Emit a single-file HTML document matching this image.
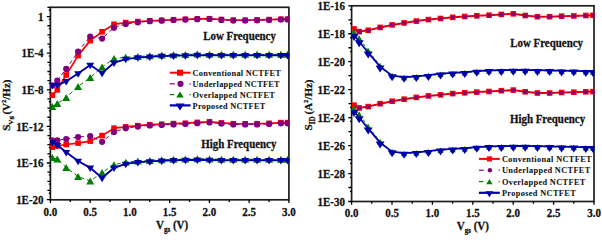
<!DOCTYPE html><html><head><meta charset="utf-8"><style>html,body{margin:0;padding:0;background:#fff;width:602px;height:235px;overflow:hidden}svg{display:block}text{font-family:"Liberation Serif",serif;font-weight:bold;fill:#111;stroke:#111;stroke-width:0.25px}</style></head><body>
<svg width="602" height="235" viewBox="0 0 602 235">
<rect x="50.4" y="7.3" width="238.50" height="192.50" fill="none" stroke="#1e1e1e" stroke-width="1.7"/>
<path d="M50.40,199.80 v3.2 M70.28,199.80 v2.2 M90.15,199.80 v3.2 M110.03,199.80 v2.2 M129.90,199.80 v3.2 M149.78,199.80 v2.2 M169.65,199.80 v3.2 M189.53,199.80 v2.2 M209.40,199.80 v3.2 M229.28,199.80 v2.2 M249.15,199.80 v3.2 M269.02,199.80 v2.2 M288.90,199.80 v3.2 M50.40,199.60 h-3.6 M50.40,190.45 h-3.0 M50.40,193.25 h-1.6 M50.40,181.30 h-3.0 M50.40,184.10 h-1.6 M50.40,172.15 h-3.0 M50.40,174.95 h-1.6 M50.40,163.00 h-3.6 M50.40,165.80 h-1.6 M50.40,153.85 h-3.0 M50.40,156.65 h-1.6 M50.40,144.70 h-3.0 M50.40,147.50 h-1.6 M50.40,135.55 h-3.0 M50.40,138.35 h-1.6 M50.40,126.40 h-3.6 M50.40,129.20 h-1.6 M50.40,117.25 h-3.0 M50.40,120.05 h-1.6 M50.40,108.10 h-3.0 M50.40,110.90 h-1.6 M50.40,98.95 h-3.0 M50.40,101.75 h-1.6 M50.40,89.80 h-3.6 M50.40,92.60 h-1.6 M50.40,80.65 h-3.0 M50.40,83.45 h-1.6 M50.40,71.50 h-3.0 M50.40,74.30 h-1.6 M50.40,62.35 h-3.0 M50.40,65.15 h-1.6 M50.40,53.20 h-3.6 M50.40,56.00 h-1.6 M50.40,44.05 h-3.0 M50.40,46.85 h-1.6 M50.40,34.90 h-3.0 M50.40,37.70 h-1.6 M50.40,25.75 h-3.0 M50.40,28.55 h-1.6 M50.40,16.60 h-3.6 M50.40,19.40 h-1.6 M50.40,7.45 h-3.0 M50.40,10.25 h-1.6" stroke="#000" stroke-width="1.3" fill="none"/>
<text transform="translate(50.4,215.8) scale(1,1.08)" font-size="11" text-anchor="middle" >0.0</text>
<text transform="translate(90.2,215.8) scale(1,1.08)" font-size="11" text-anchor="middle" >0.5</text>
<text transform="translate(129.9,215.8) scale(1,1.08)" font-size="11" text-anchor="middle" >1.0</text>
<text transform="translate(169.7,215.8) scale(1,1.08)" font-size="11" text-anchor="middle" >1.5</text>
<text transform="translate(209.4,215.8) scale(1,1.08)" font-size="11" text-anchor="middle" >2.0</text>
<text transform="translate(249.2,215.8) scale(1,1.08)" font-size="11" text-anchor="middle" >2.5</text>
<text transform="translate(288.9,215.8) scale(1,1.08)" font-size="11" text-anchor="middle" >3.0</text>
<text transform="translate(43.6,20.7) scale(1,1.08)" font-size="11" text-anchor="end" >1</text>
<text transform="translate(43.6,57.3) scale(1,1.08)" font-size="11" text-anchor="end" >1E-4</text>
<text transform="translate(43.6,93.9) scale(1,1.08)" font-size="11" text-anchor="end" >1E-8</text>
<text transform="translate(43.6,130.5) scale(1,1.08)" font-size="11" text-anchor="end" >1E-12</text>
<text transform="translate(43.6,167.1) scale(1,1.08)" font-size="11" text-anchor="end" >1E-16</text>
<text transform="translate(43.6,203.7) scale(1,1.08)" font-size="11" text-anchor="end" >1E-20</text>
<rect x="351.6" y="5.8" width="242.40" height="195.70" fill="none" stroke="#1e1e1e" stroke-width="1.7"/>
<path d="M351.60,201.50 v3.2 M371.80,201.50 v2.2 M392.00,201.50 v3.2 M412.20,201.50 v2.2 M432.40,201.50 v3.2 M452.60,201.50 v2.2 M472.80,201.50 v3.2 M493.00,201.50 v2.2 M513.20,201.50 v3.2 M533.40,201.50 v2.2 M553.60,201.50 v3.2 M573.80,201.50 v2.2 M594.00,201.50 v3.2 M351.60,201.50 h-3.4 M351.60,187.52 h-3.2 M351.60,191.32 h-1.6 M351.60,173.54 h-3.4 M351.60,177.34 h-1.6 M351.60,159.56 h-3.2 M351.60,163.36 h-1.6 M351.60,145.59 h-3.4 M351.60,149.39 h-1.6 M351.60,131.61 h-3.2 M351.60,135.41 h-1.6 M351.60,117.63 h-3.4 M351.60,121.43 h-1.6 M351.60,103.65 h-3.2 M351.60,107.45 h-1.6 M351.60,89.67 h-3.4 M351.60,93.47 h-1.6 M351.60,75.69 h-3.2 M351.60,79.49 h-1.6 M351.60,61.71 h-3.4 M351.60,65.51 h-1.6 M351.60,47.74 h-3.2 M351.60,51.54 h-1.6 M351.60,33.76 h-3.4 M351.60,37.56 h-1.6 M351.60,19.78 h-3.2 M351.60,23.58 h-1.6 M351.60,5.80 h-3.4 M351.60,9.60 h-1.6" stroke="#000" stroke-width="1.3" fill="none"/>
<text transform="translate(351.6,216.8) scale(1,1.08)" font-size="11" text-anchor="middle" >0.0</text>
<text transform="translate(392.0,216.8) scale(1,1.08)" font-size="11" text-anchor="middle" >0.5</text>
<text transform="translate(432.4,216.8) scale(1,1.08)" font-size="11" text-anchor="middle" >1.0</text>
<text transform="translate(472.8,216.8) scale(1,1.08)" font-size="11" text-anchor="middle" >1.5</text>
<text transform="translate(513.2,216.8) scale(1,1.08)" font-size="11" text-anchor="middle" >2.0</text>
<text transform="translate(553.6,216.8) scale(1,1.08)" font-size="11" text-anchor="middle" >2.5</text>
<text transform="translate(594.0,216.8) scale(1,1.08)" font-size="11" text-anchor="middle" >3.0</text>
<text transform="translate(344.9,9.9) scale(1,1.08)" font-size="11" text-anchor="end" >1E-16</text>
<text transform="translate(344.9,37.9) scale(1,1.08)" font-size="11" text-anchor="end" >1E-18</text>
<text transform="translate(344.9,65.8) scale(1,1.08)" font-size="11" text-anchor="end" >1E-20</text>
<text transform="translate(344.9,93.8) scale(1,1.08)" font-size="11" text-anchor="end" >1E-22</text>
<text transform="translate(344.9,121.7) scale(1,1.08)" font-size="11" text-anchor="end" >1E-24</text>
<text transform="translate(344.9,149.7) scale(1,1.08)" font-size="11" text-anchor="end" >1E-26</text>
<text transform="translate(344.9,177.6) scale(1,1.08)" font-size="11" text-anchor="end" >1E-28</text>
<text transform="translate(344.9,205.6) scale(1,1.08)" font-size="11" text-anchor="end" >1E-30</text>
<text transform="translate(156,229) scale(1,1.08)" font-size="11">V<tspan font-size="7" dy="3">gs</tspan><tspan dy="-3"> (V)</tspan></text>
<text transform="translate(456.8,229.7) scale(1,1.08)" font-size="11">V<tspan font-size="7" dy="3">gs</tspan><tspan dy="-3"> (V)</tspan></text>
<text transform="translate(10.4,130.8) rotate(-90)" font-size="11">S<tspan font-size="7" dy="2.6">Vg</tspan><tspan dy="-2.6" dx="-1.2"> (V</tspan><tspan font-size="6.5" dy="-4.2">2</tspan><tspan dy="4.2">/Hz)</tspan></text>
<text transform="translate(312.2,130.4) rotate(-90)" font-size="11">S<tspan font-size="7.2" dy="2.6">ID</tspan><tspan dy="-2.6" dx="-1"> (A</tspan><tspan font-size="6.5" dy="-4.2">2</tspan><tspan dy="4.2">/Hz)</tspan></text>
<text transform="translate(203.2,40.2) scale(1,1.08)" font-size="10.9" text-anchor="start" >Low Frequency</text>
<text transform="translate(201.3,148.4) scale(1,1.08)" font-size="10.9" text-anchor="start" >High Frequency</text>
<text transform="translate(510.3,47.2) scale(1,1.08)" font-size="10.9" text-anchor="start" >Low Frequency</text>
<text transform="translate(510.0,123.3) scale(1,1.08)" font-size="10.9" text-anchor="start" >High Frequency</text>
<svg x="50.4" y="7.3" width="239.00" height="192.50" viewBox="50.4 7.3 239.00 192.50" overflow="hidden">
<path d="M52.3,95.2 L57.3,89.9 L66.2,75.0 L78.1,55.6 L90.2,40.6 L102.1,31.8 L114.0,24.3 L125.7,22.6 L137.8,21.6 L149.8,20.8 L161.7,20.3 L173.5,19.7 L185.4,19.3 L197.3,18.9 L209.5,18.7 L221.4,19.5 L233.3,20.1 L245.2,20.2 L257.1,19.9 L269.1,19.6 L280.9,19.2 L287.6,19.1" fill="none" stroke="#ff0000" stroke-width="1.7" stroke-linejoin="round"/>
<rect x="49.50" y="92.40" width="5.6" height="5.6" fill="#ff0000"/><rect x="54.50" y="87.10" width="5.6" height="5.6" fill="#ff0000"/><rect x="63.40" y="72.20" width="5.6" height="5.6" fill="#ff0000"/><rect x="75.30" y="52.80" width="5.6" height="5.6" fill="#ff0000"/><rect x="87.40" y="37.80" width="5.6" height="5.6" fill="#ff0000"/><rect x="99.30" y="29.00" width="5.6" height="5.6" fill="#ff0000"/><rect x="111.20" y="21.50" width="5.6" height="5.6" fill="#ff0000"/><rect x="122.90" y="19.80" width="5.6" height="5.6" fill="#ff0000"/><rect x="135.00" y="18.80" width="5.6" height="5.6" fill="#ff0000"/><rect x="147.00" y="18.00" width="5.6" height="5.6" fill="#ff0000"/><rect x="158.90" y="17.50" width="5.6" height="5.6" fill="#ff0000"/><rect x="170.70" y="16.90" width="5.6" height="5.6" fill="#ff0000"/><rect x="182.60" y="16.50" width="5.6" height="5.6" fill="#ff0000"/><rect x="194.50" y="16.10" width="5.6" height="5.6" fill="#ff0000"/><rect x="206.70" y="15.90" width="5.6" height="5.6" fill="#ff0000"/><rect x="218.60" y="16.70" width="5.6" height="5.6" fill="#ff0000"/><rect x="230.50" y="17.30" width="5.6" height="5.6" fill="#ff0000"/><rect x="242.40" y="17.40" width="5.6" height="5.6" fill="#ff0000"/><rect x="254.30" y="17.10" width="5.6" height="5.6" fill="#ff0000"/><rect x="266.30" y="16.80" width="5.6" height="5.6" fill="#ff0000"/><rect x="278.10" y="16.40" width="5.6" height="5.6" fill="#ff0000"/><rect x="284.80" y="16.30" width="5.6" height="5.6" fill="#ff0000"/>
<path d="M52.3,85.5 L57.3,80.5 L66.2,68.9 L78.1,51.6 L90.2,36.5 L102.1,38.6 L114.0,27.7 L125.7,24.0 L137.8,22.3 L149.8,21.2 L161.7,20.7 L173.5,20.0 L185.4,19.6 L197.3,19.2 L209.5,19.0 L221.4,19.9 L233.3,20.6 L245.2,20.6 L257.1,20.3 L269.1,20.0 L280.9,19.6 L287.6,19.5" fill="none" stroke="#800080" stroke-width="1" stroke-dasharray="4,3"/>
<circle cx="52.30" cy="85.50" r="3.1" fill="#800080"/><circle cx="57.30" cy="80.50" r="3.1" fill="#800080"/><circle cx="66.20" cy="68.90" r="3.1" fill="#800080"/><circle cx="78.10" cy="51.60" r="3.1" fill="#800080"/><circle cx="90.20" cy="36.50" r="3.1" fill="#800080"/><circle cx="102.10" cy="38.60" r="3.1" fill="#800080"/><circle cx="114.00" cy="27.70" r="3.1" fill="#800080"/><circle cx="125.70" cy="24.00" r="3.1" fill="#800080"/><circle cx="137.80" cy="22.30" r="3.1" fill="#800080"/><circle cx="149.80" cy="21.20" r="3.1" fill="#800080"/><circle cx="161.70" cy="20.70" r="3.1" fill="#800080"/><circle cx="173.50" cy="20.00" r="3.1" fill="#800080"/><circle cx="185.40" cy="19.60" r="3.1" fill="#800080"/><circle cx="197.30" cy="19.20" r="3.1" fill="#800080"/><circle cx="209.50" cy="19.00" r="3.1" fill="#800080"/><circle cx="221.40" cy="19.90" r="3.1" fill="#800080"/><circle cx="233.30" cy="20.60" r="3.1" fill="#800080"/><circle cx="245.20" cy="20.60" r="3.1" fill="#800080"/><circle cx="257.10" cy="20.30" r="3.1" fill="#800080"/><circle cx="269.10" cy="20.00" r="3.1" fill="#800080"/><circle cx="280.90" cy="19.60" r="3.1" fill="#800080"/><circle cx="287.60" cy="19.50" r="3.1" fill="#800080"/>
<path d="M52.3,106.4 L57.3,103.6 L66.2,97.5 L78.1,86.4 L90.2,77.6 L102.1,67.0 L114.0,58.6 L125.7,57.3 L137.8,56.6 L149.8,55.7 L161.7,55.1 L173.5,54.7 L185.4,54.4 L197.3,54.1 L209.5,54.3 L221.4,54.3 L233.3,54.3 L245.2,54.3 L257.1,54.3 L269.1,54.3 L280.9,54.3 L287.6,54.3" fill="none" stroke="#008000" stroke-width="1" stroke-dasharray="4,3"/>
<path d="M48.30,109.90 L56.30,109.90 L52.30,102.90Z" fill="#008000"/><path d="M53.30,107.10 L61.30,107.10 L57.30,100.10Z" fill="#008000"/><path d="M62.20,101.00 L70.20,101.00 L66.20,94.00Z" fill="#008000"/><path d="M74.10,89.90 L82.10,89.90 L78.10,82.90Z" fill="#008000"/><path d="M86.20,81.10 L94.20,81.10 L90.20,74.10Z" fill="#008000"/><path d="M98.10,70.50 L106.10,70.50 L102.10,63.50Z" fill="#008000"/><path d="M110.00,62.10 L118.00,62.10 L114.00,55.10Z" fill="#008000"/><path d="M121.70,60.80 L129.70,60.80 L125.70,53.80Z" fill="#008000"/><path d="M133.80,60.10 L141.80,60.10 L137.80,53.10Z" fill="#008000"/><path d="M145.80,59.20 L153.80,59.20 L149.80,52.20Z" fill="#008000"/><path d="M157.70,58.60 L165.70,58.60 L161.70,51.60Z" fill="#008000"/><path d="M169.50,58.20 L177.50,58.20 L173.50,51.20Z" fill="#008000"/><path d="M181.40,57.90 L189.40,57.90 L185.40,50.90Z" fill="#008000"/><path d="M193.30,57.60 L201.30,57.60 L197.30,50.60Z" fill="#008000"/><path d="M205.50,57.80 L213.50,57.80 L209.50,50.80Z" fill="#008000"/><path d="M217.40,57.80 L225.40,57.80 L221.40,50.80Z" fill="#008000"/><path d="M229.30,57.80 L237.30,57.80 L233.30,50.80Z" fill="#008000"/><path d="M241.20,57.80 L249.20,57.80 L245.20,50.80Z" fill="#008000"/><path d="M253.10,57.80 L261.10,57.80 L257.10,50.80Z" fill="#008000"/><path d="M265.10,57.80 L273.10,57.80 L269.10,50.80Z" fill="#008000"/><path d="M276.90,57.80 L284.90,57.80 L280.90,50.80Z" fill="#008000"/><path d="M283.60,57.80 L291.60,57.80 L287.60,50.80Z" fill="#008000"/>
<path d="M52.3,85.1 L57.3,85.1 L66.2,81.3 L78.1,73.5 L90.2,65.0 L102.1,73.0 L114.0,62.8 L125.7,59.1 L137.8,57.6 L149.8,56.7 L161.7,56.1 L173.5,55.7 L185.4,55.4 L197.3,55.1 L209.5,55.3 L221.4,55.3 L233.3,55.3 L245.2,55.3 L257.1,55.3 L269.1,55.3 L280.9,55.3 L287.6,55.3" fill="none" stroke="#0000a8" stroke-width="1.9" stroke-linejoin="round"/>
<path d="M48.30,82.85 L56.30,82.85 L52.30,89.35Z" fill="#0000a8"/><path d="M53.30,82.85 L61.30,82.85 L57.30,89.35Z" fill="#0000a8"/><path d="M62.20,79.05 L70.20,79.05 L66.20,85.55Z" fill="#0000a8"/><path d="M74.10,71.25 L82.10,71.25 L78.10,77.75Z" fill="#0000a8"/><path d="M86.20,62.75 L94.20,62.75 L90.20,69.25Z" fill="#0000a8"/><path d="M98.10,70.75 L106.10,70.75 L102.10,77.25Z" fill="#0000a8"/><path d="M110.00,60.55 L118.00,60.55 L114.00,67.05Z" fill="#0000a8"/><path d="M121.70,56.85 L129.70,56.85 L125.70,63.35Z" fill="#0000a8"/><path d="M133.80,55.35 L141.80,55.35 L137.80,61.85Z" fill="#0000a8"/><path d="M145.80,54.45 L153.80,54.45 L149.80,60.95Z" fill="#0000a8"/><path d="M157.70,53.85 L165.70,53.85 L161.70,60.35Z" fill="#0000a8"/><path d="M169.50,53.45 L177.50,53.45 L173.50,59.95Z" fill="#0000a8"/><path d="M181.40,53.15 L189.40,53.15 L185.40,59.65Z" fill="#0000a8"/><path d="M193.30,52.85 L201.30,52.85 L197.30,59.35Z" fill="#0000a8"/><path d="M205.50,53.05 L213.50,53.05 L209.50,59.55Z" fill="#0000a8"/><path d="M217.40,53.05 L225.40,53.05 L221.40,59.55Z" fill="#0000a8"/><path d="M229.30,53.05 L237.30,53.05 L233.30,59.55Z" fill="#0000a8"/><path d="M241.20,53.05 L249.20,53.05 L245.20,59.55Z" fill="#0000a8"/><path d="M253.10,53.05 L261.10,53.05 L257.10,59.55Z" fill="#0000a8"/><path d="M265.10,53.05 L273.10,53.05 L269.10,59.55Z" fill="#0000a8"/><path d="M276.90,53.05 L284.90,53.05 L280.90,59.55Z" fill="#0000a8"/><path d="M283.60,53.05 L291.60,53.05 L287.60,59.55Z" fill="#0000a8"/>
<path d="M52.3,147.2 L57.3,145.9 L66.2,144.5 L78.1,143.1 L90.2,141.1 L102.1,135.6 L114.0,128.2 L125.7,126.8 L137.8,125.7 L149.8,124.7 L161.7,124.2 L173.5,123.6 L185.4,123.2 L197.3,122.4 L209.5,121.8 L221.4,122.9 L233.3,123.7 L245.2,123.8 L257.1,123.7 L269.1,123.3 L280.9,122.6 L287.6,122.6" fill="none" stroke="#ff0000" stroke-width="1.7" stroke-linejoin="round"/>
<rect x="49.50" y="144.40" width="5.6" height="5.6" fill="#ff0000"/><rect x="54.50" y="143.10" width="5.6" height="5.6" fill="#ff0000"/><rect x="63.40" y="141.70" width="5.6" height="5.6" fill="#ff0000"/><rect x="75.30" y="140.30" width="5.6" height="5.6" fill="#ff0000"/><rect x="87.40" y="138.30" width="5.6" height="5.6" fill="#ff0000"/><rect x="99.30" y="132.80" width="5.6" height="5.6" fill="#ff0000"/><rect x="111.20" y="125.40" width="5.6" height="5.6" fill="#ff0000"/><rect x="122.90" y="124.00" width="5.6" height="5.6" fill="#ff0000"/><rect x="135.00" y="122.90" width="5.6" height="5.6" fill="#ff0000"/><rect x="147.00" y="121.90" width="5.6" height="5.6" fill="#ff0000"/><rect x="158.90" y="121.40" width="5.6" height="5.6" fill="#ff0000"/><rect x="170.70" y="120.80" width="5.6" height="5.6" fill="#ff0000"/><rect x="182.60" y="120.40" width="5.6" height="5.6" fill="#ff0000"/><rect x="194.50" y="119.60" width="5.6" height="5.6" fill="#ff0000"/><rect x="206.70" y="119.00" width="5.6" height="5.6" fill="#ff0000"/><rect x="218.60" y="120.10" width="5.6" height="5.6" fill="#ff0000"/><rect x="230.50" y="120.90" width="5.6" height="5.6" fill="#ff0000"/><rect x="242.40" y="121.00" width="5.6" height="5.6" fill="#ff0000"/><rect x="254.30" y="120.90" width="5.6" height="5.6" fill="#ff0000"/><rect x="266.30" y="120.50" width="5.6" height="5.6" fill="#ff0000"/><rect x="278.10" y="119.80" width="5.6" height="5.6" fill="#ff0000"/><rect x="284.80" y="119.80" width="5.6" height="5.6" fill="#ff0000"/>
<path d="M52.3,140.4 L57.3,140.4 L66.2,139.0 L78.1,137.0 L90.2,136.0 L102.1,141.8 L114.0,132.0 L125.7,128.2 L137.8,126.6 L149.8,125.5 L161.7,125.0 L173.5,124.4 L185.4,124.0 L197.3,123.2 L209.5,122.5 L221.4,123.6 L233.3,124.4 L245.2,124.5 L257.1,124.4 L269.1,124.0 L280.9,123.3 L287.6,123.3" fill="none" stroke="#800080" stroke-width="1" stroke-dasharray="4,3"/>
<circle cx="52.30" cy="140.40" r="3.1" fill="#800080"/><circle cx="57.30" cy="140.40" r="3.1" fill="#800080"/><circle cx="66.20" cy="139.00" r="3.1" fill="#800080"/><circle cx="78.10" cy="137.00" r="3.1" fill="#800080"/><circle cx="90.20" cy="136.00" r="3.1" fill="#800080"/><circle cx="102.10" cy="141.80" r="3.1" fill="#800080"/><circle cx="114.00" cy="132.00" r="3.1" fill="#800080"/><circle cx="125.70" cy="128.20" r="3.1" fill="#800080"/><circle cx="137.80" cy="126.60" r="3.1" fill="#800080"/><circle cx="149.80" cy="125.50" r="3.1" fill="#800080"/><circle cx="161.70" cy="125.00" r="3.1" fill="#800080"/><circle cx="173.50" cy="124.40" r="3.1" fill="#800080"/><circle cx="185.40" cy="124.00" r="3.1" fill="#800080"/><circle cx="197.30" cy="123.20" r="3.1" fill="#800080"/><circle cx="209.50" cy="122.50" r="3.1" fill="#800080"/><circle cx="221.40" cy="123.60" r="3.1" fill="#800080"/><circle cx="233.30" cy="124.40" r="3.1" fill="#800080"/><circle cx="245.20" cy="124.50" r="3.1" fill="#800080"/><circle cx="257.10" cy="124.40" r="3.1" fill="#800080"/><circle cx="269.10" cy="124.00" r="3.1" fill="#800080"/><circle cx="280.90" cy="123.30" r="3.1" fill="#800080"/><circle cx="287.60" cy="123.30" r="3.1" fill="#800080"/>
<path d="M52.3,157.6 L57.3,159.0 L66.2,167.5 L78.1,176.5 L90.2,181.0 L102.1,172.5 L114.0,164.8 L125.7,162.2 L137.8,161.1 L149.8,160.4 L161.7,159.8 L173.5,159.2 L185.4,159.0 L197.3,158.7 L209.5,159.0 L221.4,159.2 L233.3,159.2 L245.2,159.2 L257.1,159.2 L269.1,159.2 L280.9,159.2 L287.6,159.2" fill="none" stroke="#008000" stroke-width="1" stroke-dasharray="4,3"/>
<path d="M48.30,161.10 L56.30,161.10 L52.30,154.10Z" fill="#008000"/><path d="M53.30,162.50 L61.30,162.50 L57.30,155.50Z" fill="#008000"/><path d="M62.20,171.00 L70.20,171.00 L66.20,164.00Z" fill="#008000"/><path d="M74.10,180.00 L82.10,180.00 L78.10,173.00Z" fill="#008000"/><path d="M86.20,184.50 L94.20,184.50 L90.20,177.50Z" fill="#008000"/><path d="M98.10,176.00 L106.10,176.00 L102.10,169.00Z" fill="#008000"/><path d="M110.00,168.30 L118.00,168.30 L114.00,161.30Z" fill="#008000"/><path d="M121.70,165.70 L129.70,165.70 L125.70,158.70Z" fill="#008000"/><path d="M133.80,164.60 L141.80,164.60 L137.80,157.60Z" fill="#008000"/><path d="M145.80,163.90 L153.80,163.90 L149.80,156.90Z" fill="#008000"/><path d="M157.70,163.30 L165.70,163.30 L161.70,156.30Z" fill="#008000"/><path d="M169.50,162.70 L177.50,162.70 L173.50,155.70Z" fill="#008000"/><path d="M181.40,162.50 L189.40,162.50 L185.40,155.50Z" fill="#008000"/><path d="M193.30,162.20 L201.30,162.20 L197.30,155.20Z" fill="#008000"/><path d="M205.50,162.50 L213.50,162.50 L209.50,155.50Z" fill="#008000"/><path d="M217.40,162.70 L225.40,162.70 L221.40,155.70Z" fill="#008000"/><path d="M229.30,162.70 L237.30,162.70 L233.30,155.70Z" fill="#008000"/><path d="M241.20,162.70 L249.20,162.70 L245.20,155.70Z" fill="#008000"/><path d="M253.10,162.70 L261.10,162.70 L257.10,155.70Z" fill="#008000"/><path d="M265.10,162.70 L273.10,162.70 L269.10,155.70Z" fill="#008000"/><path d="M276.90,162.70 L284.90,162.70 L280.90,155.70Z" fill="#008000"/><path d="M283.60,162.70 L291.60,162.70 L287.60,155.70Z" fill="#008000"/>
<path d="M52.3,142.2 L57.3,145.0 L66.2,152.2 L78.1,161.0 L90.2,167.8 L102.1,178.0 L114.0,167.8 L125.7,163.9 L137.8,162.2 L149.8,161.4 L161.7,160.7 L173.5,160.2 L185.4,160.0 L197.3,159.7 L209.5,160.0 L221.4,160.2 L233.3,160.2 L245.2,160.2 L257.1,160.2 L269.1,160.2 L280.9,160.2 L287.6,160.2" fill="none" stroke="#0000a8" stroke-width="1.9" stroke-linejoin="round"/>
<path d="M48.30,139.95 L56.30,139.95 L52.30,146.45Z" fill="#0000a8"/><path d="M53.30,142.75 L61.30,142.75 L57.30,149.25Z" fill="#0000a8"/><path d="M62.20,149.95 L70.20,149.95 L66.20,156.45Z" fill="#0000a8"/><path d="M74.10,158.75 L82.10,158.75 L78.10,165.25Z" fill="#0000a8"/><path d="M86.20,165.55 L94.20,165.55 L90.20,172.05Z" fill="#0000a8"/><path d="M98.10,175.75 L106.10,175.75 L102.10,182.25Z" fill="#0000a8"/><path d="M110.00,165.55 L118.00,165.55 L114.00,172.05Z" fill="#0000a8"/><path d="M121.70,161.65 L129.70,161.65 L125.70,168.15Z" fill="#0000a8"/><path d="M133.80,159.95 L141.80,159.95 L137.80,166.45Z" fill="#0000a8"/><path d="M145.80,159.15 L153.80,159.15 L149.80,165.65Z" fill="#0000a8"/><path d="M157.70,158.45 L165.70,158.45 L161.70,164.95Z" fill="#0000a8"/><path d="M169.50,157.95 L177.50,157.95 L173.50,164.45Z" fill="#0000a8"/><path d="M181.40,157.75 L189.40,157.75 L185.40,164.25Z" fill="#0000a8"/><path d="M193.30,157.45 L201.30,157.45 L197.30,163.95Z" fill="#0000a8"/><path d="M205.50,157.75 L213.50,157.75 L209.50,164.25Z" fill="#0000a8"/><path d="M217.40,157.95 L225.40,157.95 L221.40,164.45Z" fill="#0000a8"/><path d="M229.30,157.95 L237.30,157.95 L233.30,164.45Z" fill="#0000a8"/><path d="M241.20,157.95 L249.20,157.95 L245.20,164.45Z" fill="#0000a8"/><path d="M253.10,157.95 L261.10,157.95 L257.10,164.45Z" fill="#0000a8"/><path d="M265.10,157.95 L273.10,157.95 L269.10,164.45Z" fill="#0000a8"/><path d="M276.90,157.95 L284.90,157.95 L280.90,164.45Z" fill="#0000a8"/><path d="M283.60,157.95 L291.60,157.95 L287.60,164.45Z" fill="#0000a8"/>
</svg>
<svg x="351.6" y="5.8" width="242.90" height="195.70" viewBox="351.6 5.8 242.90 195.70" overflow="hidden">
<path d="M354.0,28.9 L359.2,31.6 L368.2,30.3 L380.1,27.4 L392.1,24.9 L404.1,22.9 L416.3,21.1 L428.4,19.6 L440.5,18.5 L452.7,17.3 L464.7,16.5 L476.8,15.8 L489.0,15.2 L501.3,14.4 L513.3,13.8 L525.2,15.5 L537.4,16.7 L549.6,16.7 L561.6,16.2 L573.8,15.9 L585.8,15.5 L593.0,15.3" fill="none" stroke="#ff0000" stroke-width="2" stroke-linejoin="round"/>
<rect x="351.20" y="26.10" width="5.6" height="5.6" fill="#ff0000"/><rect x="356.40" y="28.80" width="5.6" height="5.6" fill="#ff0000"/><rect x="365.40" y="27.50" width="5.6" height="5.6" fill="#ff0000"/><rect x="377.30" y="24.60" width="5.6" height="5.6" fill="#ff0000"/><rect x="389.30" y="22.10" width="5.6" height="5.6" fill="#ff0000"/><rect x="401.30" y="20.10" width="5.6" height="5.6" fill="#ff0000"/><rect x="413.50" y="18.30" width="5.6" height="5.6" fill="#ff0000"/><rect x="425.60" y="16.80" width="5.6" height="5.6" fill="#ff0000"/><rect x="437.70" y="15.70" width="5.6" height="5.6" fill="#ff0000"/><rect x="449.90" y="14.50" width="5.6" height="5.6" fill="#ff0000"/><rect x="461.90" y="13.70" width="5.6" height="5.6" fill="#ff0000"/><rect x="474.00" y="13.00" width="5.6" height="5.6" fill="#ff0000"/><rect x="486.20" y="12.40" width="5.6" height="5.6" fill="#ff0000"/><rect x="498.50" y="11.60" width="5.6" height="5.6" fill="#ff0000"/><rect x="510.50" y="11.00" width="5.6" height="5.6" fill="#ff0000"/><rect x="522.40" y="12.70" width="5.6" height="5.6" fill="#ff0000"/><rect x="534.60" y="13.90" width="5.6" height="5.6" fill="#ff0000"/><rect x="546.80" y="13.90" width="5.6" height="5.6" fill="#ff0000"/><rect x="558.80" y="13.40" width="5.6" height="5.6" fill="#ff0000"/><rect x="571.00" y="13.10" width="5.6" height="5.6" fill="#ff0000"/><rect x="583.00" y="12.70" width="5.6" height="5.6" fill="#ff0000"/><rect x="590.20" y="12.50" width="5.6" height="5.6" fill="#ff0000"/>
<path d="M354.0,28.9 L359.2,31.6 L368.2,30.3 L380.1,27.4 L392.1,24.9 L404.1,22.9 L416.3,21.1 L428.4,19.6 L440.5,18.5 L452.7,17.3 L464.7,16.5 L476.8,15.8 L489.0,15.2 L501.3,14.4 L513.3,13.8 L525.2,15.5 L537.4,16.7 L549.6,16.7 L561.6,16.2 L573.8,15.9 L585.8,15.5 L593.0,15.3" fill="none" stroke="#800080" stroke-width="0.7" stroke-dasharray="3,2"/>
<circle cx="359.20" cy="31.90" r="2.1" fill="#800080"/><circle cx="368.20" cy="30.60" r="2.1" fill="#800080"/><circle cx="380.10" cy="27.70" r="2.1" fill="#800080"/><circle cx="392.10" cy="25.20" r="2.1" fill="#800080"/><circle cx="404.10" cy="23.20" r="2.1" fill="#800080"/><circle cx="416.30" cy="21.40" r="2.1" fill="#800080"/><circle cx="428.40" cy="19.90" r="2.1" fill="#800080"/><circle cx="440.50" cy="18.80" r="2.1" fill="#800080"/><circle cx="452.70" cy="17.60" r="2.1" fill="#800080"/><circle cx="464.70" cy="16.80" r="2.1" fill="#800080"/><circle cx="476.80" cy="16.10" r="2.1" fill="#800080"/><circle cx="489.00" cy="15.50" r="2.1" fill="#800080"/><circle cx="501.30" cy="14.70" r="2.1" fill="#800080"/><circle cx="513.30" cy="14.10" r="2.1" fill="#800080"/><circle cx="525.20" cy="15.80" r="2.1" fill="#800080"/><circle cx="537.40" cy="17.00" r="2.1" fill="#800080"/><circle cx="549.60" cy="17.00" r="2.1" fill="#800080"/><circle cx="561.60" cy="16.50" r="2.1" fill="#800080"/><circle cx="573.80" cy="16.20" r="2.1" fill="#800080"/><circle cx="585.80" cy="15.80" r="2.1" fill="#800080"/><circle cx="593.00" cy="15.60" r="2.1" fill="#800080"/>
<path d="M354.0,32.0 L359.2,38.0 L368.2,50.5 L380.1,65.5 L392.1,75.6 L404.1,77.4 L416.3,76.8 L428.4,75.6 L440.5,74.2 L452.7,73.4 L464.7,72.7 L476.8,71.6 L489.0,70.9 L501.3,70.7 L513.3,70.5 L525.2,70.5 L537.4,70.7 L549.6,70.9 L561.6,71.2 L573.8,71.4 L585.8,71.7 L593.0,71.9" fill="none" stroke="#008000" stroke-width="1" stroke-dasharray="3,2"/>
<path d="M351.00,34.75 L357.00,34.75 L354.00,29.25Z" fill="#008000"/><path d="M356.20,40.75 L362.20,40.75 L359.20,35.25Z" fill="#008000"/><path d="M365.20,53.25 L371.20,53.25 L368.20,47.75Z" fill="#008000"/><path d="M377.10,68.25 L383.10,68.25 L380.10,62.75Z" fill="#008000"/><path d="M389.10,78.35 L395.10,78.35 L392.10,72.85Z" fill="#008000"/><path d="M401.10,80.15 L407.10,80.15 L404.10,74.65Z" fill="#008000"/><path d="M413.30,79.55 L419.30,79.55 L416.30,74.05Z" fill="#008000"/><path d="M425.40,78.35 L431.40,78.35 L428.40,72.85Z" fill="#008000"/><path d="M437.50,76.95 L443.50,76.95 L440.50,71.45Z" fill="#008000"/><path d="M449.70,76.15 L455.70,76.15 L452.70,70.65Z" fill="#008000"/><path d="M461.70,75.45 L467.70,75.45 L464.70,69.95Z" fill="#008000"/><path d="M473.80,74.35 L479.80,74.35 L476.80,68.85Z" fill="#008000"/><path d="M486.00,73.65 L492.00,73.65 L489.00,68.15Z" fill="#008000"/><path d="M498.30,73.45 L504.30,73.45 L501.30,67.95Z" fill="#008000"/><path d="M510.30,73.25 L516.30,73.25 L513.30,67.75Z" fill="#008000"/><path d="M522.20,73.25 L528.20,73.25 L525.20,67.75Z" fill="#008000"/><path d="M534.40,73.45 L540.40,73.45 L537.40,67.95Z" fill="#008000"/><path d="M546.60,73.65 L552.60,73.65 L549.60,68.15Z" fill="#008000"/><path d="M558.60,73.95 L564.60,73.95 L561.60,68.45Z" fill="#008000"/><path d="M570.80,74.15 L576.80,74.15 L573.80,68.65Z" fill="#008000"/><path d="M582.80,74.45 L588.80,74.45 L585.80,68.95Z" fill="#008000"/><path d="M590.00,74.65 L596.00,74.65 L593.00,69.15Z" fill="#008000"/>
<path d="M354.0,35.2 L359.2,41.5 L368.2,52.7 L380.1,66.7 L392.1,75.6 L404.1,77.1 L416.3,76.4 L428.4,75.2 L440.5,73.7 L452.7,72.9 L464.7,72.2 L476.8,71.1 L489.0,70.4 L501.3,70.2 L513.3,70.0 L525.2,70.0 L537.4,70.2 L549.6,70.4 L561.6,70.7 L573.8,70.9 L585.8,71.2 L593.0,71.4" fill="none" stroke="#0000a8" stroke-width="1.8" stroke-linejoin="round"/>
<path d="M349.50,33.90 L358.50,33.90 L354.00,40.90Z" fill="#0000a8"/><path d="M354.70,40.20 L363.70,40.20 L359.20,47.20Z" fill="#0000a8"/><path d="M363.70,51.40 L372.70,51.40 L368.20,58.40Z" fill="#0000a8"/><path d="M375.60,65.40 L384.60,65.40 L380.10,72.40Z" fill="#0000a8"/><path d="M387.60,74.30 L396.60,74.30 L392.10,81.30Z" fill="#0000a8"/><path d="M399.60,75.80 L408.60,75.80 L404.10,82.80Z" fill="#0000a8"/><path d="M411.80,75.10 L420.80,75.10 L416.30,82.10Z" fill="#0000a8"/><path d="M423.90,73.90 L432.90,73.90 L428.40,80.90Z" fill="#0000a8"/><path d="M436.00,72.40 L445.00,72.40 L440.50,79.40Z" fill="#0000a8"/><path d="M448.20,71.60 L457.20,71.60 L452.70,78.60Z" fill="#0000a8"/><path d="M460.20,70.90 L469.20,70.90 L464.70,77.90Z" fill="#0000a8"/><path d="M472.30,69.80 L481.30,69.80 L476.80,76.80Z" fill="#0000a8"/><path d="M484.50,69.10 L493.50,69.10 L489.00,76.10Z" fill="#0000a8"/><path d="M496.80,68.90 L505.80,68.90 L501.30,75.90Z" fill="#0000a8"/><path d="M508.80,68.70 L517.80,68.70 L513.30,75.70Z" fill="#0000a8"/><path d="M520.70,68.70 L529.70,68.70 L525.20,75.70Z" fill="#0000a8"/><path d="M532.90,68.90 L541.90,68.90 L537.40,75.90Z" fill="#0000a8"/><path d="M545.10,69.10 L554.10,69.10 L549.60,76.10Z" fill="#0000a8"/><path d="M557.10,69.40 L566.10,69.40 L561.60,76.40Z" fill="#0000a8"/><path d="M569.30,69.60 L578.30,69.60 L573.80,76.60Z" fill="#0000a8"/><path d="M581.30,69.90 L590.30,69.90 L585.80,76.90Z" fill="#0000a8"/><path d="M588.50,70.10 L597.50,70.10 L593.00,77.10Z" fill="#0000a8"/>
<path d="M354.0,105.2 L359.2,107.9 L368.2,106.6 L380.1,103.7 L392.1,101.2 L404.1,99.2 L416.3,97.4 L428.4,95.9 L440.5,94.8 L452.7,93.6 L464.7,92.8 L476.8,92.1 L489.0,91.5 L501.3,90.7 L513.3,90.1 L525.2,91.8 L537.4,93.0 L549.6,93.0 L561.6,92.5 L573.8,92.2 L585.8,91.8 L593.0,91.6" fill="none" stroke="#ff0000" stroke-width="2" stroke-linejoin="round"/>
<rect x="351.20" y="102.40" width="5.6" height="5.6" fill="#ff0000"/><rect x="356.40" y="105.10" width="5.6" height="5.6" fill="#ff0000"/><rect x="365.40" y="103.80" width="5.6" height="5.6" fill="#ff0000"/><rect x="377.30" y="100.90" width="5.6" height="5.6" fill="#ff0000"/><rect x="389.30" y="98.40" width="5.6" height="5.6" fill="#ff0000"/><rect x="401.30" y="96.40" width="5.6" height="5.6" fill="#ff0000"/><rect x="413.50" y="94.60" width="5.6" height="5.6" fill="#ff0000"/><rect x="425.60" y="93.10" width="5.6" height="5.6" fill="#ff0000"/><rect x="437.70" y="92.00" width="5.6" height="5.6" fill="#ff0000"/><rect x="449.90" y="90.80" width="5.6" height="5.6" fill="#ff0000"/><rect x="461.90" y="90.00" width="5.6" height="5.6" fill="#ff0000"/><rect x="474.00" y="89.30" width="5.6" height="5.6" fill="#ff0000"/><rect x="486.20" y="88.70" width="5.6" height="5.6" fill="#ff0000"/><rect x="498.50" y="87.90" width="5.6" height="5.6" fill="#ff0000"/><rect x="510.50" y="87.30" width="5.6" height="5.6" fill="#ff0000"/><rect x="522.40" y="89.00" width="5.6" height="5.6" fill="#ff0000"/><rect x="534.60" y="90.20" width="5.6" height="5.6" fill="#ff0000"/><rect x="546.80" y="90.20" width="5.6" height="5.6" fill="#ff0000"/><rect x="558.80" y="89.70" width="5.6" height="5.6" fill="#ff0000"/><rect x="571.00" y="89.40" width="5.6" height="5.6" fill="#ff0000"/><rect x="583.00" y="89.00" width="5.6" height="5.6" fill="#ff0000"/><rect x="590.20" y="88.80" width="5.6" height="5.6" fill="#ff0000"/>
<path d="M354.0,105.2 L359.2,107.9 L368.2,106.6 L380.1,103.7 L392.1,101.2 L404.1,99.2 L416.3,97.4 L428.4,95.9 L440.5,94.8 L452.7,93.6 L464.7,92.8 L476.8,92.1 L489.0,91.5 L501.3,90.7 L513.3,90.1 L525.2,91.8 L537.4,93.0 L549.6,93.0 L561.6,92.5 L573.8,92.2 L585.8,91.8 L593.0,91.6" fill="none" stroke="#800080" stroke-width="0.7" stroke-dasharray="3,2"/>
<circle cx="359.20" cy="108.20" r="2.1" fill="#800080"/><circle cx="368.20" cy="106.90" r="2.1" fill="#800080"/><circle cx="380.10" cy="104.00" r="2.1" fill="#800080"/><circle cx="392.10" cy="101.50" r="2.1" fill="#800080"/><circle cx="404.10" cy="99.50" r="2.1" fill="#800080"/><circle cx="416.30" cy="97.70" r="2.1" fill="#800080"/><circle cx="428.40" cy="96.20" r="2.1" fill="#800080"/><circle cx="440.50" cy="95.10" r="2.1" fill="#800080"/><circle cx="452.70" cy="93.90" r="2.1" fill="#800080"/><circle cx="464.70" cy="93.10" r="2.1" fill="#800080"/><circle cx="476.80" cy="92.40" r="2.1" fill="#800080"/><circle cx="489.00" cy="91.80" r="2.1" fill="#800080"/><circle cx="501.30" cy="91.00" r="2.1" fill="#800080"/><circle cx="513.30" cy="90.40" r="2.1" fill="#800080"/><circle cx="525.20" cy="92.10" r="2.1" fill="#800080"/><circle cx="537.40" cy="93.30" r="2.1" fill="#800080"/><circle cx="549.60" cy="93.30" r="2.1" fill="#800080"/><circle cx="561.60" cy="92.80" r="2.1" fill="#800080"/><circle cx="573.80" cy="92.50" r="2.1" fill="#800080"/><circle cx="585.80" cy="92.10" r="2.1" fill="#800080"/><circle cx="593.00" cy="91.90" r="2.1" fill="#800080"/>
<path d="M354.0,108.0 L359.2,114.0 L368.2,126.5 L380.1,141.5 L392.1,151.6 L404.1,153.4 L416.3,152.8 L428.4,151.6 L440.5,150.2 L452.7,149.4 L464.7,148.7 L476.8,147.6 L489.0,146.9 L501.3,146.7 L513.3,146.5 L525.2,146.5 L537.4,146.7 L549.6,146.9 L561.6,147.2 L573.8,147.4 L585.8,147.7 L593.0,147.9" fill="none" stroke="#008000" stroke-width="1" stroke-dasharray="3,2"/>
<path d="M351.00,110.75 L357.00,110.75 L354.00,105.25Z" fill="#008000"/><path d="M356.20,116.75 L362.20,116.75 L359.20,111.25Z" fill="#008000"/><path d="M365.20,129.25 L371.20,129.25 L368.20,123.75Z" fill="#008000"/><path d="M377.10,144.25 L383.10,144.25 L380.10,138.75Z" fill="#008000"/><path d="M389.10,154.35 L395.10,154.35 L392.10,148.85Z" fill="#008000"/><path d="M401.10,156.15 L407.10,156.15 L404.10,150.65Z" fill="#008000"/><path d="M413.30,155.55 L419.30,155.55 L416.30,150.05Z" fill="#008000"/><path d="M425.40,154.35 L431.40,154.35 L428.40,148.85Z" fill="#008000"/><path d="M437.50,152.95 L443.50,152.95 L440.50,147.45Z" fill="#008000"/><path d="M449.70,152.15 L455.70,152.15 L452.70,146.65Z" fill="#008000"/><path d="M461.70,151.45 L467.70,151.45 L464.70,145.95Z" fill="#008000"/><path d="M473.80,150.35 L479.80,150.35 L476.80,144.85Z" fill="#008000"/><path d="M486.00,149.65 L492.00,149.65 L489.00,144.15Z" fill="#008000"/><path d="M498.30,149.45 L504.30,149.45 L501.30,143.95Z" fill="#008000"/><path d="M510.30,149.25 L516.30,149.25 L513.30,143.75Z" fill="#008000"/><path d="M522.20,149.25 L528.20,149.25 L525.20,143.75Z" fill="#008000"/><path d="M534.40,149.45 L540.40,149.45 L537.40,143.95Z" fill="#008000"/><path d="M546.60,149.65 L552.60,149.65 L549.60,144.15Z" fill="#008000"/><path d="M558.60,149.95 L564.60,149.95 L561.60,144.45Z" fill="#008000"/><path d="M570.80,150.15 L576.80,150.15 L573.80,144.65Z" fill="#008000"/><path d="M582.80,150.45 L588.80,150.45 L585.80,144.95Z" fill="#008000"/><path d="M590.00,150.65 L596.00,150.65 L593.00,145.15Z" fill="#008000"/>
<path d="M354.0,111.2 L359.2,117.5 L368.2,128.7 L380.1,142.7 L392.1,151.6 L404.1,153.1 L416.3,152.4 L428.4,151.2 L440.5,149.7 L452.7,148.9 L464.7,148.2 L476.8,147.1 L489.0,146.4 L501.3,146.2 L513.3,146.0 L525.2,146.0 L537.4,146.2 L549.6,146.4 L561.6,146.7 L573.8,146.9 L585.8,147.2 L593.0,147.4" fill="none" stroke="#0000a8" stroke-width="1.8" stroke-linejoin="round"/>
<path d="M349.50,109.90 L358.50,109.90 L354.00,116.90Z" fill="#0000a8"/><path d="M354.70,116.20 L363.70,116.20 L359.20,123.20Z" fill="#0000a8"/><path d="M363.70,127.40 L372.70,127.40 L368.20,134.40Z" fill="#0000a8"/><path d="M375.60,141.40 L384.60,141.40 L380.10,148.40Z" fill="#0000a8"/><path d="M387.60,150.30 L396.60,150.30 L392.10,157.30Z" fill="#0000a8"/><path d="M399.60,151.80 L408.60,151.80 L404.10,158.80Z" fill="#0000a8"/><path d="M411.80,151.10 L420.80,151.10 L416.30,158.10Z" fill="#0000a8"/><path d="M423.90,149.90 L432.90,149.90 L428.40,156.90Z" fill="#0000a8"/><path d="M436.00,148.40 L445.00,148.40 L440.50,155.40Z" fill="#0000a8"/><path d="M448.20,147.60 L457.20,147.60 L452.70,154.60Z" fill="#0000a8"/><path d="M460.20,146.90 L469.20,146.90 L464.70,153.90Z" fill="#0000a8"/><path d="M472.30,145.80 L481.30,145.80 L476.80,152.80Z" fill="#0000a8"/><path d="M484.50,145.10 L493.50,145.10 L489.00,152.10Z" fill="#0000a8"/><path d="M496.80,144.90 L505.80,144.90 L501.30,151.90Z" fill="#0000a8"/><path d="M508.80,144.70 L517.80,144.70 L513.30,151.70Z" fill="#0000a8"/><path d="M520.70,144.70 L529.70,144.70 L525.20,151.70Z" fill="#0000a8"/><path d="M532.90,144.90 L541.90,144.90 L537.40,151.90Z" fill="#0000a8"/><path d="M545.10,145.10 L554.10,145.10 L549.60,152.10Z" fill="#0000a8"/><path d="M557.10,145.40 L566.10,145.40 L561.60,152.40Z" fill="#0000a8"/><path d="M569.30,145.60 L578.30,145.60 L573.80,152.60Z" fill="#0000a8"/><path d="M581.30,145.90 L590.30,145.90 L585.80,152.90Z" fill="#0000a8"/><path d="M588.50,146.10 L597.50,146.10 L593.00,153.10Z" fill="#0000a8"/>
</svg>
<path d="M169.8,72.7 H190.6" stroke="#ff0000" stroke-width="2"/><rect x="177.00" y="69.70" width="6.0" height="6.0" fill="#ff0000"/>
<path d="M169.8,83.8 H174.8" stroke="#800080" stroke-width="1.2"/><path d="M189.4,83.8 H190.6" stroke="#800080" stroke-width="1.2"/><circle cx="180.50" cy="83.80" r="3.1" fill="#800080"/>
<path d="M169.8,94.6 H174.3" stroke="#008000" stroke-width="1.2"/><path d="M189.4,94.6 H190.6" stroke="#008000" stroke-width="1.2"/><path d="M176.25,97.60 L183.75,97.60 L180.00,91.60Z" fill="#008000"/>
<path d="M169.8,105.4 H190.6" stroke="#0000a8" stroke-width="2.2"/><path d="M175.50,103.40 L184.50,103.40 L180.00,110.40Z" fill="#0000a8"/>
<text x="192.6" y="75.9" font-size="8.3" letter-spacing="0.28" style="stroke-width:0.05px">Conventional NCTFET</text>
<text x="192.6" y="87.0" font-size="8.3" letter-spacing="0.28" style="stroke-width:0.05px">Underlapped NCTFET</text>
<text x="192.6" y="97.8" font-size="8.3" letter-spacing="0.28" style="stroke-width:0.05px">Overlapped NCTFET</text>
<text x="192.6" y="108.6" font-size="8.3" letter-spacing="0.28" style="stroke-width:0.05px">Proposed NCTFET</text>
<path d="M478.9,158.9 H499.8" stroke="#ff0000" stroke-width="2"/><rect x="486.85" y="156.35" width="5.1" height="5.1" fill="#ff0000"/>
<path d="M478.9,170.2 H483.9" stroke="#800080" stroke-width="1.2"/><path d="M498.6,170.2 H499.8" stroke="#800080" stroke-width="1.2"/><circle cx="489.90" cy="170.20" r="2.2" fill="#800080"/>
<path d="M478.9,181.6 H483.4" stroke="#008000" stroke-width="1.2"/><path d="M498.6,181.6 H499.8" stroke="#008000" stroke-width="1.2"/><path d="M486.21,184.15 L492.59,184.15 L489.40,179.05Z" fill="#008000"/>
<path d="M478.9,192.8 H499.8" stroke="#0000a8" stroke-width="2.2"/><path d="M485.57,191.33 L493.22,191.33 L489.40,197.28Z" fill="#0000a8"/>
<text x="501.9" y="162.1" font-size="8.3" letter-spacing="0.36" style="stroke-width:0.05px">Conventional NCTFET</text>
<text x="501.9" y="173.4" font-size="8.3" letter-spacing="0.36" style="stroke-width:0.05px">Underlapped NCTFET</text>
<text x="501.9" y="184.8" font-size="8.3" letter-spacing="0.36" style="stroke-width:0.05px">Overlapped NCTFET</text>
<text x="501.9" y="196.0" font-size="8.3" letter-spacing="0.36" style="stroke-width:0.05px">Proposed NCTFET</text>
</svg></body></html>
